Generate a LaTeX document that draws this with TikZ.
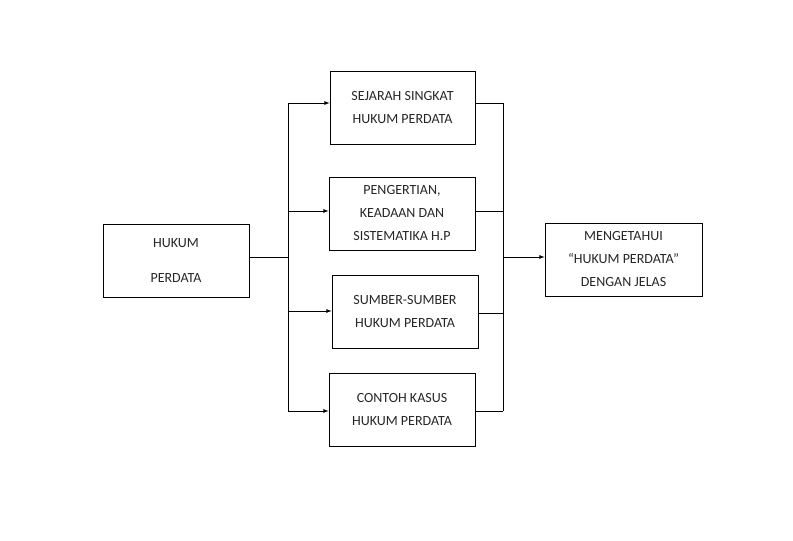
\documentclass[tikz,border=0pt]{standalone}
\usepackage{fontspec}
\setmainfont{Carlito}
\begin{document}
\begin{tikzpicture}[x=1pt,y=-1pt,
  bx/.style={draw,line width=0.8pt,align=center,inner sep=0pt,font=\fontsize{14}{23}\selectfont,text=black!85},
  ln/.style={line width=0.8pt},
  ar/.style={ln,-latex}]
\useasboundingbox (0,0) rectangle (793,541);
\node[bx,minimum width=146,minimum height=73] (L) at (176,260.5) {HUKUM\\[12pt]PERDATA};
\node[bx,minimum width=145,minimum height=73] (A) at (402.5,107.5) {SEJARAH SINGKAT\\HUKUM PERDATA};
\node[bx,minimum width=146,minimum height=73] (B) at (402,213.5) {PENGERTIAN,\\KEADAAN DAN\\SISTEMATIKA H.P};
\node[bx,minimum width=146,minimum height=73] (C) at (405,311.5) {SUMBER-SUMBER\\HUKUM PERDATA};
\node[bx,minimum width=146,minimum height=73] (D) at (402,409.5) {CONTOH KASUS\\HUKUM PERDATA};
\node[bx,minimum width=157,minimum height=73] (R) at (623.5,259.5) {MENGETAHUI\\“HUKUM PERDATA”\\DENGAN JELAS};
\coordinate (s) at (288,257);
\coordinate (t) at (503,257);
\draw[ln] (L.east |- s) -- (s);
\draw[ln] (288,103) -- (288,411);
\draw[ar] (288,103) -- (A.west |- 0,103);
\draw[ar] (288,211) -- (B.west |- 0,211);
\draw[ar] (288,311) -- (C.west |- 0,311);
\draw[ar] (288,411) -- (D.west |- 0,411);
\draw[ln] (A.east |- 0,103) -- (503,103);
\draw[ln] (B.east |- 0,211) -- (503,211);
\draw[ln] (C.east |- 0,313) -- (503,313);
\draw[ln] (D.east |- 0,411) -- (503,411);
\draw[ln] (503,103) -- (503,411);
\draw[ar] (t) -- (R.west |- t);
\end{tikzpicture}
\end{document}
